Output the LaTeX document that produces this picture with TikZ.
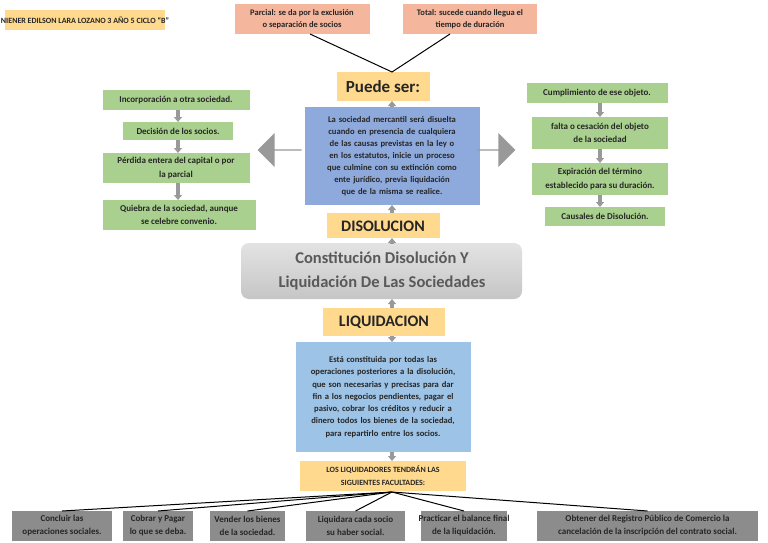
\documentclass[tikz,border=0pt]{standalone}
\usepackage{fontspec}
\setmainfont{Carlito}
\usetikzlibrary{arrows.meta,shapes.arrows}
\definecolor{gr}{HTML}{A9D08E}
\definecolor{org}{HTML}{FFD98E}
\definecolor{sal}{HTML}{F4B69C}
\definecolor{blu}{HTML}{8EA9DB}
\definecolor{lblu}{HTML}{9DC3E6}
\definecolor{dgr}{HTML}{8C8C8C}
\definecolor{arr}{HTML}{999999}
\hyphenpenalty=10000 \exhyphenpenalty=10000
\tikzset{x=1pt,y=-1pt,
 bx/.style={inner sep=0pt,align=center,font=\bfseries\fontsize{9}{13.5}\selectfont,text=black!85},
 sarrow/.style={draw=arr,line width=3.5pt,-{Triangle[width=8pt,length=5pt]}},
 con/.style={draw=black,line width=1pt}}
\begin{document}
\begin{tikzpicture}
\useasboundingbox (0,0) rectangle (768,543);
\fill[white] (0,0) rectangle (768,543);
% name
\fill[org] (5,10) rectangle (165,30);
\node[bx,font=\bfseries\fontsize{8}{9}\selectfont] (name) at (85,20) {NIENER EDILSON LARA LOZANO 3 AÑO 5 CICLO ``B''};
\fill[sal] (235,4) rectangle (370,34);
\node[bx,font=\bfseries\fontsize{8.5}{12}\selectfont] (par) at (302,19) {Parcial: se da por la exclusión\\o separación de socios};
\coordinate (parb) at (310,34);
\fill[sal] (403,4) rectangle (537,34);
\node[bx,font=\bfseries\fontsize{8.5}{12}\selectfont] (tot) at (470,19) {Total: sucede cuando llegua el\\tiempo de duración};
\coordinate (totb) at (450,34);
\fill[org] (337,72) rectangle (430,101);
\node[bx,font=\bfseries\fontsize{17}{19}\selectfont] (puede) at (383,87) {Puede ser:};
\coordinate (pt) at (392,72);
\draw[con] (parb) -- (pt) -- (totb);
% blue
\fill[blu] (305,107) rectangle (480,205);
\node[bx,text width=150pt,font=\bfseries\fontsize{8.6}{12}\selectfont] (dis) at (392,156) {La sociedad mercantil será disuelta cuando en presencia de cualquiera de las causas previstas en la ley o en los estatutos, inicie un proceso que culmine con su extinción como ente jurídico, previa liquidación que de la misma se realice.};
\fill[org] (327,213) rectangle (440,238);
\node[bx,font=\bfseries\fontsize{16}{18}\selectfont] (disol) at (383,226) {DISOLUCION};
\draw[sarrow] (392,107) -- (392,101);
\draw[sarrow] (392,213) -- (392,205);
% main
\shade[rounded corners=8pt,top color=gray!22,bottom color=gray!45] (241,243) rectangle (522,299);
\node[bx,font=\bfseries\fontsize{16.5}{24}\selectfont,text=black!65] (main) at (382,271) {Constitución Disolución Y\\Liquidación De Las Sociedades};
\draw[sarrow] (392,243) -- (392,238);
\draw[sarrow] (392,308) -- (392,299);
\fill[org] (323,308) rectangle (445,336);
\node[bx,font=\bfseries\fontsize{16}{18}\selectfont] (liq) at (384,322) {LIQUIDACION};
\draw[sarrow] (392,336) -- (392,342);
\fill[lblu] (296,342) rectangle (471,452);
\node[bx,text width=148pt,font=\bfseries\fontsize{8.6}{12.3}\selectfont] (liqt) at (383,397) {Está constituida por todas las operaciones posteriores a la disolución, que son necesarias y precisas para dar fin a los negocios pendientes, pagar el pasivo, cobrar los créditos y reducir a dinero todos los bienes de la sociedad, para repartirlo entre los socios.};
\draw[sarrow] (392,452) -- (392,461);
\fill[org] (300,461) rectangle (466,491);
\node[bx,font=\bfseries\fontsize{8}{13}\selectfont] (fac) at (383,476) {LOS LIQUIDADORES TENDRÁN LAS\\SIGUIENTES FACULTADES:};
\coordinate (fb) at (392,492);
% bottom
\foreach \a/\b/\t/\n in {12/112/{Concluir las\\operaciones sociales.}/b1,123/193/{Cobrar y Pagar\\lo que se deba.}/b2,210/285/{Vender los bienes\\de la sociedad.}/b3,306/405/{Liquidara cada socio\\su haber social.}/b4,421/507/{Practicar el balance final\\de la liquidación.}/b5,537/758/{Obtener del Registro Público de Comercio la\\cancelación de la inscripción del contrato social.}/b6}{
 \fill[dgr] (\a,511) rectangle (\b,541);
 \node[bx,text=black!85,font=\bfseries\fontsize{9}{13}\selectfont] (\n) at ({(\a+\b)/2},526) {\t};
 \draw[con] (fb) -- ({(\a+\b)/2},511);
}
% left green
\fill[gr] (103,90) rectangle (250,110);
\node[bx] (l1) at (176,100) {Incorporación a otra sociedad.};
\fill[gr] (123,122) rectangle (233,140);
\node[bx] (l2) at (178,131) {Decisión de los socios.};
\fill[gr] (103,153) rectangle (250,183);
\node[bx] (l3) at (176,168) {Pérdida entera del capital o por\\la parcial};
\fill[gr] (103,200) rectangle (256,230);
\node[bx] (l4) at (179,215) {Quiebra de la sociedad, aunque\\se celebre convenio.};
\draw[sarrow] (178,110) -- (178,122);
\draw[sarrow] (178,140) -- (178,153);
\draw[sarrow] (178,183) -- (178,200);
% right green
\fill[gr] (527,83) rectangle (668,103);
\node[bx] (r1) at (597,93) {Cumplimiento de ese objeto.};
\fill[gr] (532,117) rectangle (668,149);
\node[bx] (r2) at (600,133) {falta o cesación del objeto\\de la sociedad};
\fill[gr] (532,163) rectangle (668,195);
\node[bx] (r3) at (600,179) {Expiración del término\\establecido para su duración.};
\fill[gr] (545,207) rectangle (665,226);
\node[bx] (r4) at (605,216) {Causales de Disolución.};
\draw[sarrow] (600,103) -- (600,117);
\draw[sarrow] (600,149) -- (600,163);
\draw[sarrow] (600,195) -- (600,207);
% big arrows
\node[single arrow,fill=arr,minimum height=44pt,minimum width=34pt,single arrow head extend=6pt,inner sep=0pt,shape border rotate=180] (la) at (280,150) {};
\node[single arrow,fill=arr,minimum height=38pt,minimum width=34pt,single arrow head extend=6pt,inner sep=0pt] (ra) at (496,150) {};
\end{tikzpicture}
\end{document}
